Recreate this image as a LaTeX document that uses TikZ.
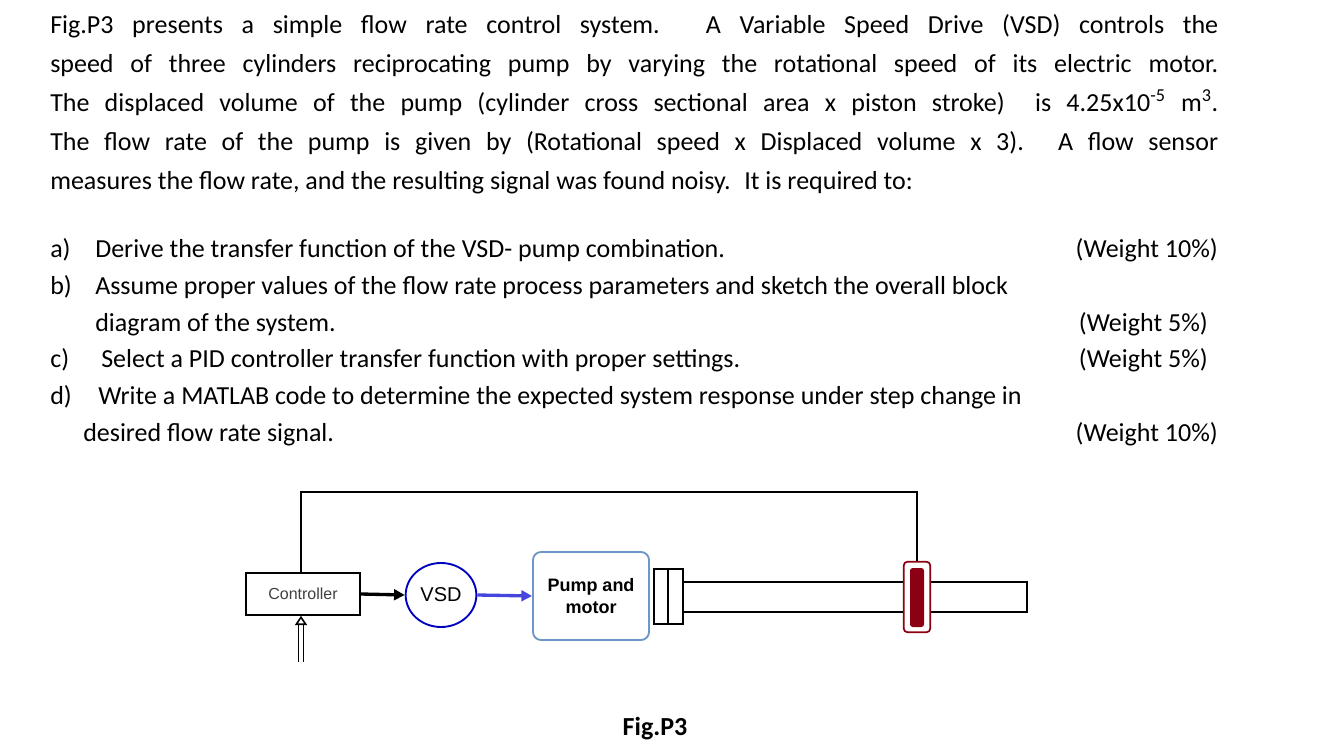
\documentclass[tikz,border=0pt]{standalone}
\usepackage{fontspec}
\setmainfont{Carlito}
\newfontfamily\arialf{Liberation Sans}
\usetikzlibrary{arrows.meta,shapes.geometric}
\definecolor{dred}{RGB}{140,0,20}
\definecolor{arrblue}{RGB}{70,70,220}
\definecolor{pbox}{RGB}{110,150,200}
\begin{document}
\begin{tikzpicture}[x=0.75pt,y=-0.75pt,
 txt/.style={anchor=base west,inner sep=0,font=\fontsize{19.5pt}{29pt}\selectfont},
 wt/.style={anchor=base east,inner sep=0,font=\fontsize{19.5pt}{29pt}\selectfont}]
\useasboundingbox (0,0) rectangle (1343,755);
\node[anchor=north west,inner sep=0,text width=876pt,align=justify,font=\fontsize{19.5pt}{29.25pt}\selectfont] (para) at (50,14) {%
Fig.P3 presents a simple flow rate control system. A Variable Speed Drive (VSD) controls the \linebreak
speed of three cylinders reciprocating pump by varying the rotational speed of its electric motor. \linebreak
The displaced volume of the pump (cylinder cross sectional area x piston stroke) \ is 4.25x10\textsuperscript{-5} m\textsuperscript{3}. \linebreak
The flow rate of the pump is given by (Rotational speed x Displaced volume x 3). A flow sensor \linebreak
measures the flow rate, and the resulting signal was found noisy. \ It is required to:};
\node[txt] (la) at (50,258) {a)};
\node[txt] (ta) at (95,258) {Derive the transfer function of the VSD- pump combination.};
\node[wt] (wa) at (1218,258) {(Weight 10\%)};
\node[txt] (lb) at (50,295) {b)};
\node[anchor=base west,inner sep=0,text width=844pt,align=justify,font=\fontsize{19.5pt}{27.75pt}\selectfont] (tb) at (95,295) {Assume proper values of the flow rate process parameters and sketch the overall block};
\node[txt] (tb2) at (95,332) {diagram of the system.};
\node[wt] (wb) at (1208,332) {(Weight 5\%)};
\node[txt] (lc) at (50,368) {c)};
\node[txt] (tc) at (101,368) {Select a PID controller transfer function with proper settings.};
\node[wt] (wc) at (1208,368) {(Weight 5\%)};
\node[txt] (ld) at (50,405) {d)};
\node[anchor=base west,inner sep=0,text width=840pt,align=justify,font=\fontsize{19.5pt}{27.75pt}\selectfont] (td) at (98,405) {Write a MATLAB code to determine the expected system response under step change in};
\node[txt] (td2) at (83,442) {desired flow rate signal.};
\node[wt] (wd) at (1218,442) {(Weight 10\%)};
% diagram
\node[draw,line width=1.6pt,minimum width=85pt,minimum height=31pt,inner sep=0,font=\arialf\fontsize{12pt}{14pt}\selectfont,text=black!75] (ctl) at (303,594) {Controller};
\node[draw=blue!75!black,line width=1.4pt,ellipse,minimum width=53pt,minimum height=48pt,inner sep=0,font=\arialf\fontsize{15pt}{17pt}\selectfont] (vsd) at (441,595) {VSD};
\node[draw=pbox,line width=1.4pt,rounded corners=6pt,minimum width=87pt,minimum height=66pt,inner sep=0,align=center,font=\arialf\bfseries\fontsize{13.5pt}{17pt}\selectfont] (pump) at (591,596) {Pump and\\motor};
\draw[line width=2.5pt,-{Triangle[length=8pt,width=8pt]}] (ctl.east) -- (vsd.west);
\draw[line width=2.5pt,color=arrblue,-{Triangle[length=8pt,width=8pt]}] (vsd.east) -- (pump.west);
\draw[line width=1.4pt,fill=white] (654,569) rectangle (668,624);
\draw[line width=1.4pt,fill=white] (668,569) rectangle (683,624);
\draw[line width=1.4pt] (683,582) -- (1027,582) -- (1027,612) -- (683,612);
\node[draw=dred,line width=1.3pt,fill=white,rounded corners=3pt,minimum width=20pt,minimum height=53pt,inner sep=0] (sen) at (917,597) {};
\fill[dred,rounded corners=2pt] (910,568) rectangle (924,627);
\coordinate (c1) at (917,492);
\coordinate (c2) at (301,492);
\draw[line width=1.4pt] (sen.north) -- (c1) -- (c2) -- (ctl.north-|c2);
\coordinate (in) at (301,662);
\draw[line width=1.2pt,double,double distance=2.5pt,-{Triangle[open,length=7pt,width=9pt]}] (in) -- (ctl.south-|in);
\node[anchor=base,inner sep=0,font=\bfseries\fontsize{19.5pt}{24pt}\selectfont] (fig) at (655,735) {Fig.P3};
\end{tikzpicture}
\end{document}
